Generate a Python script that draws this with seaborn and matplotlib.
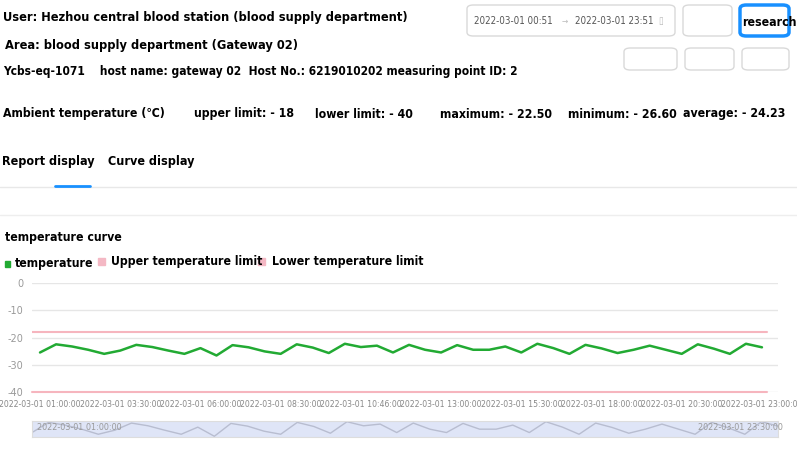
import matplotlib
matplotlib.use("Agg")
import matplotlib.pyplot as plt
from matplotlib.patches import FancyBboxPatch, Rectangle
import seaborn as sns
import pandas as pd

# temperature readings, every 30 min
temps = [-25.5, -22.5, -23.3, -24.5, -26.0, -24.8, -22.7, -23.5, -24.8, -26.0,
         -23.9, -26.6, -22.8, -23.6, -25.1, -26.0, -22.5, -23.7, -25.7, -22.3,
         -23.5, -23.0, -25.5, -22.7, -24.5, -25.5, -22.8, -24.5, -24.5, -23.3,
         -25.5, -22.3, -23.9, -26.0, -22.7, -24.0, -25.7, -24.5, -23.0, -24.5,
         -26.0, -22.5, -24.1, -26.0, -22.3, -23.6]
upper_limit = -18
lower_limit = -40
tick_labels = ["2022-03-01 01:00:00", "2022-03-01 03:30:00", "2022-03-01 06:00:00",
               "2022-03-01 08:30:00", "2022-03-01 10:46:00", "2022-03-01 13:00:00",
               "2022-03-01 15:30:00", "2022-03-01 18:00:00", "2022-03-01 20:30:00",
               "2022-03-01 23:00:00"]
yticks = [0, -10, -20, -30, -40]

df = pd.DataFrame({"idx": range(len(temps)), "temp": temps})

sns.set_style("white")
plt.rcParams['font.family'] = ['Liberation Sans Narrow', 'DejaVu Sans']
W, H = 797, 468
fig = plt.figure(figsize=(W / 100, H / 100), dpi=100)

def px(x, y):
    return x / W, 1 - y / H

def txt(x, y, s, size=9, color="black", weight="bold", **kw):
    fig.text(*px(x, y), s, fontsize=size, color=color, weight=weight, va="center",
             fontstretch="condensed", **kw)

# header
txt(3, 18, "User: Hezhou central blood station (blood supply department)", 9.2)
txt(5, 45, "Area: blood supply department (Gateway 02)", 9.2)
txt(3, 71, "Ycbs-eq-1071    host name: gateway 02  Host No.: 6219010202 measuring point ID: 2", 8.6)
txt(3, 114, "Ambient temperature (℃)", 8.8)
txt(194, 114, "upper limit: - 18", 8.8)
txt(315, 114, "lower limit: - 40", 8.8)
txt(440, 114, "maximum: - 22.50", 8.8)
txt(568, 114, "minimum: - 26.60", 8.8)
txt(683, 114, "average: - 24.23", 8.8)
txt(2, 162, "Report display", 9)
txt(108, 162, "Curve display", 9)
fig.add_artist(plt.Line2D([0, 1], [1 - 187 / H] * 2, color="#e8e8e8", lw=1))
fig.add_artist(plt.Line2D([55 / W, 90 / W], [1 - 186 / H] * 2, color="#1890ff", lw=2))
fig.add_artist(plt.Line2D([0, 1], [1 - 215 / H] * 2, color="#eeeeee", lw=1))

def box(x0, y0, x1, y1, fc="white", ec="#d9d9d9", lw=1):
    fig.add_artist(FancyBboxPatch(px(x0, y1), (x1 - x0) / W, (y1 - y0) / H,
                                  boxstyle="round,pad=0,rounding_size=0.008",
                                  fc=fc, ec=ec, lw=lw, transform=fig.transFigure))

box(467, 5, 675, 36)
txt(474, 21, "2022-03-01 00:51", 7, "#555555", "normal")
txt(562, 21, "→", 6, "#bbbbbb", "normal")
txt(575, 21, "2022-03-01 23:51", 7, "#555555", "normal")
txt(658, 21, "▯", 7, "#bbbbbb", "normal")
box(683, 5, 732, 36)
box(740, 5, 789, 36, fc="white", ec="#1890ff", lw=2.5)
txt(742, 23, "research", 8.8)
box(624, 48, 677, 70)
box(685, 48, 734, 70)
box(742, 48, 789, 70)

# chart title and legend
txt(5, 237, "temperature curve", 8.8)
fig.add_artist(Rectangle(px(5, 267), 5 / W, 6 / H, color="#22aa33", transform=fig.transFigure))
txt(15, 264, "temperature", 8.8)
fig.add_artist(Rectangle(px(98, 265), 7 / W, 7 / H, color="#f4b8c4", transform=fig.transFigure))
txt(111, 261, "Upper temperature limit", 8.8)
fig.add_artist(Rectangle(px(258, 265), 7 / W, 7 / H, color="#f4b8c4", transform=fig.transFigure))
txt(272, 261, "Lower temperature limit", 8.8)

# main chart
ax = fig.add_axes([32 / W, 1 - 392 / H, 746 / W, 109 / H])
ax.axhline(upper_limit, color="#f6b5be", lw=1.5, xmax=0.985)
ax.axhline(lower_limit, color="#f6b5be", lw=1.5, xmax=0.985, zorder=3, clip_on=False)
sns.lineplot(data=df, x="idx", y="temp", ax=ax, color="#22aa33", lw=1.8)
ax.set_xlim(-0.5, 46)
ax.set_ylim(-40, 0)
ax.set_yticks(yticks)
ax.set_yticklabels([str(v) for v in yticks], fontsize=7, color="#999999")
ax.set_xticks(range(0, len(temps), 5))
ax.set_xticklabels(tick_labels, fontsize=6.2, color="#888888", fontstretch="condensed")
ax.grid(axis="y", color="#e6e6e6", lw=1)
ax.tick_params(length=0, pad=6)
ax.set_xlabel("")
ax.set_ylabel("")
for s in ax.spines.values():
    s.set_visible(False)

# data zoom slider
sl = fig.add_axes([32 / W, 1 - 437 / H, 746 / W, 16 / H])
sl.set_facecolor("#dfe5f7")
sns.lineplot(data=df, x="idx", y="temp", ax=sl, color="#b8bdd0", lw=1)
sl.set_xlim(0, len(temps) - 1)
sl.set_xticks([])
sl.set_yticks([])
sl.set_xlabel("")
sl.set_ylabel("")
for s in sl.spines.values():
    s.set_color("#dddddd")
txt(37, 428, "2022-03-01 01:00:00", 6.5, "#999999", "normal")
txt(698, 428, "2022-03-01 23:30:00", 6.5, "#999999", "normal")

fig.savefig("out.png", dpi=100)
